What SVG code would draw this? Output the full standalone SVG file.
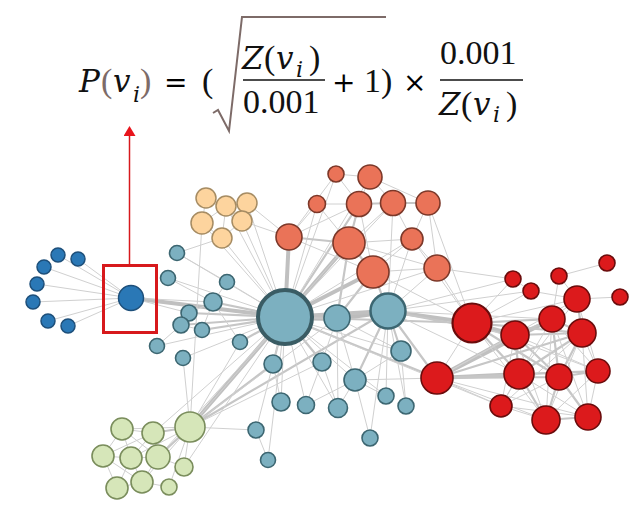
<svg xmlns="http://www.w3.org/2000/svg" width="643" height="514" viewBox="0 0 643 514">
<style>
.f{font-family:"Liberation Serif","Times New Roman",serif;font-size:34px;fill:#111}
.it{font-family:"DejaVu Serif","Liberation Serif",serif;font-style:italic;font-size:31px}
.sub{font-family:"DejaVu Serif","Liberation Serif",serif;font-size:22px;font-style:italic}
.op{font-family:"DejaVu Serif","Liberation Serif",serif;font-size:28px}
.g{fill:#7d6b68}
.e1{stroke:#d0d0d0;stroke-width:1;fill:none}
.e2{stroke:#c6c6c6;stroke-width:2.2;fill:none}
.e3{stroke:#c0c0c0;stroke-width:4;fill:none}
.e4{stroke:#bcbcbc;stroke-width:6;fill:none}
.blue{fill:#2a78b6;stroke:#1d4f7a;stroke-width:1.5}
.teal{fill:#7cb0c0;stroke:#3c6671;stroke-width:1.6}
.peach{fill:#fdd49e;stroke:#a68c63;stroke-width:1.5}
.salmon{fill:#ea7358;stroke:#7c3829;stroke-width:1.6}
.red{fill:#dc1a1c;stroke:#6a0c0c;stroke-width:1.6}
.green{fill:#d6e6b9;stroke:#7a8d5c;stroke-width:1.6}
</style>
<defs>
<marker id="ah" markerWidth="10" markerHeight="12" refX="0" refY="6" orient="auto" markerUnits="userSpaceOnUse" viewBox="0 0 10 12">
<path d="M0,0 L10,6 L0,12 Z" fill="#e8141c"/>
</marker>
</defs>
<rect width="643" height="514" fill="#fff"/>

<g id="formula">
<text class="f it" x="79" y="92">P</text>
<text class="f g" x="101" y="92">(</text>
<text class="f it" x="113" y="92">v</text>
<text class="f sub" x="133" y="102">i</text>
<text class="f g" x="140" y="92">)</text>
<text class="op" x="164" y="92">=</text>
<text class="f" x="202" y="92">(</text>
<path d="M213,113 L218,110 L229,131 L242,17 L386,17" fill="none" stroke="#7d6b68" stroke-width="2"/>
<text class="f it" x="242" y="69">Z</text>
<text class="f" x="264" y="69">(</text>
<text class="f it" x="276" y="69">v</text>
<text class="f sub" x="296" y="77">i</text>
<text class="f" x="309" y="69">)</text>
<line x1="243" y1="80" x2="325" y2="80" stroke="#111" stroke-width="1.6"/>
<text class="f" x="243" y="113">0.001</text>
<text class="op" x="332" y="92">+</text>
<text class="f" x="364" y="92">1)</text>
<text class="op" x="403" y="92">×</text>
<text class="f" x="440" y="64">0.001</text>
<line x1="440" y1="80" x2="523" y2="80" stroke="#111" stroke-width="1.6"/>
<text class="f it" x="439" y="115">Z</text>
<text class="f" x="461" y="115">(</text>
<text class="f it" x="473" y="115">v</text>
<text class="f sub" x="493" y="122">i</text>
<text class="f" x="506" y="115">)</text>
</g>

<g id="connectors">
<path class="e1" d="M131,298L58,255M131,298L78,259M131,298L44,267M131,298L37,284M131,298L33,302M131,298L48,321M131,298L68,326"/>
<path class="e3" d="M131,298L285,317"/>
<path class="e1" d="M131,298L189,313M131,298L213,302"/>
<path class="e4" d="M285,317L337,318M337,318L388,311"/>
<path class="e3" d="M285,317L388,311M285,317L289,237M285,317L349,243M285,317L373,272M285,317L190,427M388,311L472,323M437,378L519,374M437,378L515,335M437,378L552,319M472,323L515,335"/>
<path class="e2" d="M285,317L359,204M285,317L213,302M285,317L189,313M285,317L181,325M285,317L202,330M285,317L273,364M285,317L472,323M285,317L437,378M388,311L437,378M388,311L373,272M388,311L401,351M388,311L355,380M388,311L515,335M349,243L337,318M373,272L337,318M190,427L273,364M190,427L153,433M190,427L158,457M472,323L552,319M472,323L582,333M472,323L519,374M437,378L559,377M515,335L552,319M515,335L519,374M515,335L559,377M552,319L582,333M552,319L559,377M582,333L519,374M582,333L559,377M519,374L546,420M559,377L546,420M559,377L588,417M546,420L588,417M577,299L582,333M359,204L393,203M393,203L428,203M359,204L349,243M349,243L373,272M285,317L322,362M285,317L240,342M437,378L582,333M472,323L559,377M515,335L582,333M519,374L598,371M559,377L598,371M437,378L598,371M190,427L388,311"/>
<path class="e1" d="M285,317L317,204M285,317L336,174M285,317L412,239M285,317L437,268M285,317L202,223M285,317L242,221M285,317L222,238M285,317L247,203M285,317L226,206M285,317L401,351M285,317L355,380M285,317L281,402M285,317L306,405M285,317L338,408M285,317L268,460M285,317L256,430M285,317L157,346M285,317L183,358M285,317L227,282M285,317L177,253M285,317L168,278M285,317L370,177M285,317L393,203M285,317L501,406M285,317L386,396"/>
<path class="e1" d="M388,311L437,268M388,311L412,239M388,311L393,203M388,311L386,396M388,311L406,406M388,311L370,438M388,311L513,279M388,311L531,291M388,311L552,319M388,311L519,374M337,318L355,380M337,318L401,351M337,318L322,362M337,318L338,408M401,351L355,380M355,380L338,408M355,380L386,396M355,380L370,438M401,351L406,406M355,380L437,378M273,364L281,402M322,362L338,408M322,362L306,405M355,380L306,405"/>
<path class="e1" d="M437,378L546,420M437,378L501,406M519,374L501,406M552,319L598,371M582,333L598,371M598,371L588,417M501,406L546,420M598,371L546,420M515,335L546,420M582,333L546,420M582,333L588,417M577,299L620,297M577,299L559,276M607,263L559,276M513,279L472,323M531,291L472,323M531,291L577,299M513,279L437,268M437,268L472,323M428,203L472,323M577,299L552,319M472,323L437,378M513,279L531,291M559,276L552,319M472,323L577,299M437,378L588,417M501,406L559,377M552,319L546,420M552,319L588,417M519,374L588,417M515,335L598,371M472,323L546,420M472,323L598,371M501,406L588,417M577,299L598,371M577,299L519,374M515,335L501,406M437,378L577,299M552,319L501,406M582,333L501,406M437,378L515,335"/>
<path class="e1" d="M336,174L370,177M370,177L359,204M370,177L393,203M317,204L359,204M393,203L349,243M349,243L412,239M412,239L373,272M373,272L437,268M428,203L412,239M393,203L412,239M428,203L437,268M317,204L289,237M289,237L373,272M359,204L373,272M412,239L437,268M336,174L359,204M370,177L428,203M289,237L359,204M373,272L472,323M412,239L472,323M349,243L437,268M336,174L289,237M317,204L349,243"/>
<path class="e2" d="M289,237L349,243"/>
<path class="e1" d="M206,198L226,206M226,206L247,203M206,198L202,223M226,206L242,221M247,203L242,221M202,223L222,238M242,221L222,238M226,206L222,238M206,198L242,221M202,223L226,206M202,223L190,427M222,238L177,253M247,203L289,237M242,221L289,237"/>
<path class="e1" d="M190,427L122,429M190,427L131,458M190,427L184,467M190,427L169,487M190,427L142,482M190,427L256,430M190,427L240,342M190,427L337,318M190,427L322,362M190,427L349,243M122,429L153,433M122,429L103,456M122,429L131,458M153,433L131,458M153,433L158,457M103,456L131,458M131,458L158,457M103,456L142,482M103,456L117,488M131,458L142,482M131,458L117,488M158,457L142,482M142,482L117,488M158,457L184,467M142,482L169,487M122,429L158,457M153,433L103,456M158,457L285,317M153,433L285,317M184,467L285,317M183,358L190,427M256,430L268,460"/>
<path class="e1" d="M213,302L189,313M189,313L181,325M213,302L202,330M181,325L202,330M177,253L227,282M168,278L213,302M157,346L181,325M227,282L213,302M240,342L213,302"/>
</g>

<g id="pointer">
<line x1="129.5" y1="265" x2="129.5" y2="136" stroke="#d7191c" stroke-width="1.5" marker-end="url(#ah)"/>
<rect x="103.5" y="265.5" width="53" height="67" fill="none" stroke="#d7191c" stroke-width="3"/>
</g>

<g id="n-blue">
<circle class="blue" cx="58" cy="255" r="7"/>
<circle class="blue" cx="78" cy="259" r="7"/>
<circle class="blue" cx="44" cy="267" r="7"/>
<circle class="blue" cx="37" cy="284" r="7"/>
<circle class="blue" cx="33" cy="302" r="7"/>
<circle class="blue" cx="48" cy="321" r="7"/>
<circle class="blue" cx="68" cy="326" r="7"/>
<circle class="blue" cx="131" cy="298" r="12.5"/>
</g>

<g id="n-peach">
<circle class="peach" cx="206" cy="198" r="10"/>
<circle class="peach" cx="226" cy="206" r="10"/>
<circle class="peach" cx="247" cy="203" r="10"/>
<circle class="peach" cx="202" cy="223" r="11"/>
<circle class="peach" cx="242" cy="221" r="10"/>
<circle class="peach" cx="222" cy="238" r="10"/>
</g>

<g id="n-salmon">
<circle class="salmon" cx="336" cy="174" r="8"/>
<circle class="salmon" cx="370" cy="177" r="12"/>
<circle class="salmon" cx="317" cy="204" r="8.5"/>
<circle class="salmon" cx="359" cy="204" r="12.5"/>
<circle class="salmon" cx="393" cy="203" r="12.5"/>
<circle class="salmon" cx="428" cy="203" r="12"/>
<circle class="salmon" cx="289" cy="237" r="13"/>
<circle class="salmon" cx="349" cy="243" r="16"/>
<circle class="salmon" cx="412" cy="239" r="11"/>
<circle class="salmon" cx="373" cy="272" r="16"/>
<circle class="salmon" cx="437" cy="268" r="13"/>
</g>

<g id="n-teal">
<circle class="teal" cx="285" cy="317" r="27" style="stroke-width:4;stroke:#3a5c64"/>
<circle class="teal" cx="337" cy="318" r="13"/>
<circle class="teal" cx="388" cy="311" r="17.5" style="stroke-width:2.5"/>
<circle class="teal" cx="401" cy="351" r="10"/>
<circle class="teal" cx="355" cy="380" r="11"/>
<circle class="teal" cx="273" cy="364" r="9"/>
<circle class="teal" cx="322" cy="362" r="9"/>
<circle class="teal" cx="281" cy="402" r="9"/>
<circle class="teal" cx="306" cy="405" r="8.5"/>
<circle class="teal" cx="338" cy="408" r="9.5"/>
<circle class="teal" cx="386" cy="396" r="8"/>
<circle class="teal" cx="406" cy="406" r="8"/>
<circle class="teal" cx="256" cy="430" r="8"/>
<circle class="teal" cx="370" cy="438" r="8"/>
<circle class="teal" cx="268" cy="460" r="7.5"/>
<circle class="teal" cx="240" cy="342" r="7.5"/>
<circle class="teal" cx="213" cy="302" r="9"/>
<circle class="teal" cx="189" cy="313" r="8"/>
<circle class="teal" cx="181" cy="325" r="8"/>
<circle class="teal" cx="202" cy="330" r="7.5"/>
<circle class="teal" cx="157" cy="346" r="7.5"/>
<circle class="teal" cx="183" cy="358" r="7.5"/>
<circle class="teal" cx="227" cy="282" r="7.5"/>
<circle class="teal" cx="177" cy="253" r="7.5"/>
<circle class="teal" cx="168" cy="278" r="7.5"/>
</g>

<g id="n-red">
<circle class="red" cx="513" cy="279" r="8"/>
<circle class="red" cx="559" cy="276" r="8"/>
<circle class="red" cx="607" cy="263" r="8"/>
<circle class="red" cx="531" cy="291" r="8"/>
<circle class="red" cx="577" cy="299" r="13"/>
<circle class="red" cx="620" cy="297" r="8"/>
<circle class="red" cx="472" cy="323" r="19.5" style="stroke-width:2.2"/>
<circle class="red" cx="515" cy="335" r="14"/>
<circle class="red" cx="552" cy="319" r="13"/>
<circle class="red" cx="582" cy="333" r="14"/>
<circle class="red" cx="437" cy="378" r="16"/>
<circle class="red" cx="519" cy="374" r="15"/>
<circle class="red" cx="559" cy="377" r="13"/>
<circle class="red" cx="598" cy="371" r="12"/>
<circle class="red" cx="501" cy="406" r="11"/>
<circle class="red" cx="546" cy="420" r="14"/>
<circle class="red" cx="588" cy="417" r="13"/>
</g>

<g id="n-green">
<circle class="green" cx="190" cy="427" r="15"/>
<circle class="green" cx="122" cy="429" r="11"/>
<circle class="green" cx="153" cy="433" r="11"/>
<circle class="green" cx="103" cy="456" r="11"/>
<circle class="green" cx="131" cy="458" r="11"/>
<circle class="green" cx="158" cy="457" r="12"/>
<circle class="green" cx="184" cy="467" r="9"/>
<circle class="green" cx="142" cy="482" r="11"/>
<circle class="green" cx="117" cy="488" r="11"/>
<circle class="green" cx="169" cy="487" r="8"/>
</g>
</svg>
